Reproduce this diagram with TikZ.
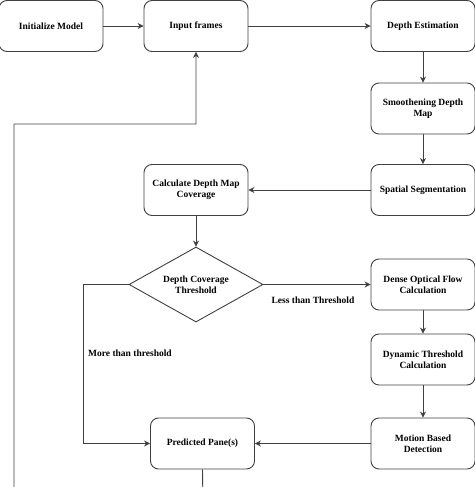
\documentclass[tikz,border=0pt]{standalone}
\usepackage{fontspec}
\setmainfont{Liberation Serif}
\usetikzlibrary{shapes.geometric,arrows.meta}
\begin{document}
\begin{tikzpicture}[
    x=1pt, y=-1pt,
    every node/.style={font=\fontsize{9.5}{11}\selectfont\bfseries},
    box/.style={rectangle, draw=black!75, line width=0.9pt, rounded corners=8pt, minimum width=104pt, minimum height=51pt, inner sep=0pt, align=center},
    decision/.style={diamond, draw=black!75, line width=0.9pt, aspect=1.79, minimum width=134pt, minimum height=75pt, inner sep=0pt, align=center},
    arrow/.style={-{Stealth[length=6pt,width=6pt]}, draw=black!75, line width=0.9pt},
    lbl/.style={inner sep=0pt}
]
\useasboundingbox (0,0) rectangle (474,487);

% Top row
\node[box] (init) at (51,26) {Initialize Model};
\node[box] (input) at (196,26) {Input frames};
\node[box] (depth) at (423,26) {Depth Estimation};

% Right column
\node[box] (smooth) at (423,108.5) {Smoothening Depth\\Map};
\node[box] (spatial) at (423,190) {Spatial Segmentation};
\node[box] (dense) at (423,284.5) {Dense Optical Flow\\Calculation};
\node[box] (dynamic) at (423,359.5) {Dynamic Threshold\\Calculation};
\node[box] (motion) at (423,443.5) {Motion Based\\Detection};

% Middle column
\node[box] (coverage) at (196,190) {Calculate Depth Map\\Coverage};
\node[decision] (threshold) at (196,284.5) {Depth Coverage\\Threshold};
\node[box] (predicted) at (202.5,443.5) {Predicted Pane(s)};

% Corners of the routed lines
\coordinate (morecorner) at (83,284.5);
\coordinate (loopbottom) at (203,510);
\coordinate (loopleft) at (14,124);

% Connections
\draw[arrow] (init) -- (input);
\draw[arrow] (input) -- (depth);
\draw[arrow] (depth) -- (smooth);
\draw[arrow] (smooth) -- (spatial);
\draw[arrow] (spatial) -- (coverage);
\draw[arrow] (coverage) -- (threshold);
\draw[arrow] (threshold) -- (dense);
\draw[arrow] (dense) -- (dynamic);
\draw[arrow] (dynamic) -- (motion);
\draw[arrow] (motion) -- (predicted);
\draw[arrow] (threshold.west) -- (morecorner) |- (predicted.west);
\draw[arrow] (predicted.south) -- (loopbottom) -| (loopleft) -| (input.south);

% Branch labels
\node[lbl] (less) at (313,300) {Less than Threshold};
\node[lbl, anchor=west] (more) at (88,353) {More than threshold};

\end{tikzpicture}
\end{document}
